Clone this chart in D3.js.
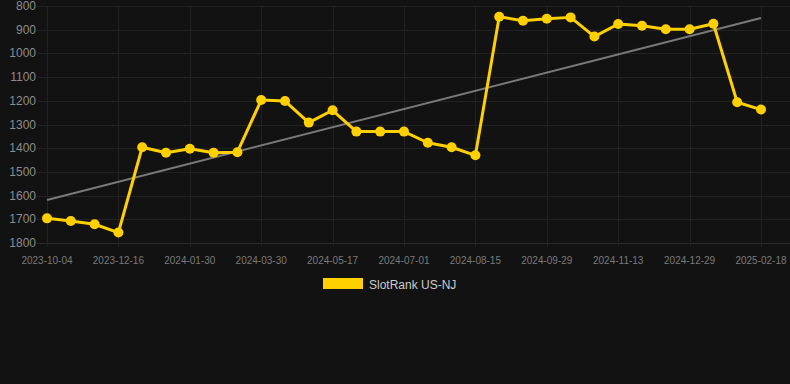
<!DOCTYPE html>
<html>
<head>
<meta charset="utf-8">
<script src="https://cdn.jsdelivr.net/npm/d3@7"></script>
<style>
html,body{margin:0;padding:0;background:#121212;}
svg{display:block;}
</style>
</head>
<body>
<svg id="chart" width="790" height="384"></svg>
<script>
// ---- data ----
const seriesName = "SlotRank US-NJ";
const rankValues = [1696,1707,1721,1756,1396,1419,1402,1419,1417,1197,1201,1292,1240,1330,1330,1330,1377,1396,1430,845,862,854,848,929,876,883,898,898,875,1206,1237];
const tickLabels = ["2023-10-04","2023-12-16","2024-01-30","2024-03-30","2024-05-17","2024-07-01","2024-08-15","2024-09-29","2024-11-13","2024-12-29","2025-02-18"];
const yTicks = [800,900,1000,1100,1200,1300,1400,1500,1600,1700,1800];

// ---- layout ----
const W = 790, H = 384;
const plotLeft = 37, plotRight = 790, plotTop = 6, plotBottom = 243;
const svg = d3.select("#chart");
svg.append("rect").attr("width",W).attr("height",H).attr("fill","#121212");

const idx = d3.range(rankValues.length);
const x = d3.scalePoint().domain(idx).range([47, 761]);
const y = d3.scaleLinear().domain([800,1800]).range([plotTop, plotBottom]);

const font = "'Liberation Sans', Arial, Helvetica, sans-serif";

// grid horizontal
svg.append("g").selectAll("line").data(yTicks).join("line")
  .attr("x1", plotLeft).attr("x2", plotRight)
  .attr("y1", d=>Math.round(y(d))+0.5).attr("y2", d=>Math.round(y(d))+0.5)
  .attr("stroke", d => d===1800 ? "#2a2a2a" : "#222222").attr("stroke-width",1);

// grid vertical at every third index
const tickIdx = idx.filter(i => i % 3 === 0);
svg.append("g").selectAll("line").data(tickIdx).join("line")
  .attr("x1", d=>Math.round(x(d))+0.5).attr("x2", d=>Math.round(x(d))+0.5)
  .attr("y1", plotTop).attr("y2", plotBottom+4)
  .attr("stroke","#222222").attr("stroke-width",1);

// y labels
svg.append("g").selectAll("text").data(yTicks).join("text")
  .attr("x", 36).attr("y", d=>y(d)+4)
  .attr("text-anchor","end")
  .attr("font-family",font).attr("font-size","12px")
  .attr("fill","#8c8c8c")
  .text(d=>d);

// x labels
svg.append("g").selectAll("text").data(tickIdx).join("text")
  .attr("x", d=>x(d)).attr("y", 264)
  .attr("text-anchor","middle")
  .attr("font-family",font).attr("font-size","10px")
  .attr("fill","#7a7a7a")
  .text((d,i)=>tickLabels[i]);

// trend line (least squares)
const n = rankValues.length;
const mx = d3.mean(idx), my = d3.mean(rankValues);
let sxy = 0, sxx = 0;
idx.forEach(i => { sxy += (i-mx)*(rankValues[i]-my); sxx += (i-mx)*(i-mx); });
const slope = sxy/sxx, intercept = my - slope*mx;
svg.append("line")
  .attr("x1", x(0)).attr("y1", y(intercept))
  .attr("x2", x(n-1)).attr("y2", y(intercept + slope*(n-1)))
  .attr("stroke","#7a7a7a").attr("stroke-width",2);

// series line
const line = d3.line().x((d,i)=>x(i)).y(d=>y(d));
svg.append("path").datum(rankValues)
  .attr("d", line).attr("fill","none")
  .attr("stroke","#FFD000").attr("stroke-width",3)
  .attr("stroke-linejoin","round");

svg.append("g").selectAll("circle").data(rankValues).join("circle")
  .attr("cx",(d,i)=>x(i)).attr("cy",d=>y(d)).attr("r",5)
  .attr("fill","#FFD000");

// legend
svg.append("rect").attr("x",323).attr("y",278).attr("width",40).attr("height",11)
  .attr("fill","#FFD000");
svg.append("text").attr("x",369).attr("y",288.5)
  .attr("font-family",font).attr("font-size","12px").attr("fill","#cccccc")
  .text(seriesName);
</script>
</body>
</html>
